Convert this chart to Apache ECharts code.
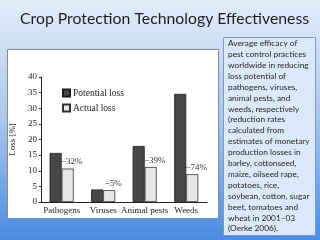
<!DOCTYPE html>
<html>
<head>
<meta charset="utf-8">
<script src="https://cdn.jsdelivr.net/npm/echarts@6/dist/echarts.min.js"></script>
<style>
html,body{margin:0;padding:0;}
#c{width:320px;height:240px;}
</style>
</head>
<body>
<div id="c"></div>
<script>
var categories = ['Pathogens', 'Viruses', 'Animal pests', 'Weeds'];
var potentialLoss = [15.7, 4.0, 17.9, 34.6];
var actualLoss = [10.7, 3.8, 11.2, 8.9];
var reductionLabels = ['\u221232%', '\u22125%', '\u221239%', '\u221274%'];
var seriesNames = ['Potential loss', 'Actual loss'];
var titleText = 'Crop Protection Technology Effectiveness';
var noteLines = [
  'Average efficacy of',
  'pest control practices',
  'worldwide in reducing',
  'loss potential of',
  'pathogens, viruses,',
  'animal pests, and',
  'weeds, respectively',
  '(reduction rates',
  'calculated from',
  'estimates of monetary',
  'production losses in',
  'barley, cottonseed,',
  'maize, oilseed rape,',
  'potatoes, rice,',
  'soybean, cotton, sugar',
  'beet, tomatoes and',
  'wheat in 2001\u201303',
  '(Oerke 2006).'
];

var serif = '"Liberation Serif", "DejaVu Serif", serif';
var chart = echarts.init(document.getElementById('c'), null, {renderer: 'canvas'});
chart.setOption({
  animation: false,
  backgroundColor: 'transparent',
  title: {
    text: titleText,
    left: 15,
    top: 6,
    textStyle: {fontFamily: 'Lato', fontSize: 15.8, fontWeight: 'normal', color: '#1f1f1f'}
  },
  graphic: [
    {type: 'rect', z: -10, silent: true, shape: {x: 0, y: 0, width: 320, height: 240},
     style: {fill: new echarts.graphic.LinearGradient(0, 0, 0, 1, [
       {offset: 0, color: '#e3edf9'},
       {offset: 0.5, color: '#a6c6ee'},
       {offset: 1, color: '#4a8ce2'}
     ])}},
    {type: 'rect', z: -5, silent: true, shape: {x: 7.5, y: 49.5, width: 211, height: 169},
     style: {fill: '#ffffff', stroke: '#8a8a8a', lineWidth: 1}},
    {type: 'rect', z: -5, silent: true, shape: {x: 223.5, y: 37.5, width: 92, height: 198},
     style: {fill: '#dbe8f7', stroke: '#7e9cbc', lineWidth: 1}},
    {type: 'text', z: 5, silent: true, left: 228, top: 38,
     style: {text: noteLines.join('\n'), fontFamily: 'Lato', fontSize: 8.3, lineHeight: 10.9, fill: '#262626'}}
  ],
  legend: {
    orient: 'vertical',
    left: 57,
    top: 83,
    itemWidth: 7,
    itemHeight: 7,
    itemGap: 5,
    icon: 'rect',
    data: seriesNames,
    textStyle: {fontFamily: serif, fontSize: 9.5, color: '#222', padding: [0, 0, 0, -2]}
  },
  grid: {left: 35, right: 113, top: 77, bottom: 38},
  xAxis: {
    type: 'category',
    data: categories,
    axisLine: {show: true, lineStyle: {color: '#222', width: 1}},
    axisTick: {show: false},
    axisLabel: {fontFamily: serif, fontSize: 9, color: '#222', margin: 4, interval: 0}
  },
  yAxis: {
    type: 'value',
    min: 0,
    max: 40,
    interval: 5,
    name: 'Loss [%]',
    nameLocation: 'middle',
    nameGap: 15,
    nameTextStyle: {fontFamily: serif, fontSize: 9, color: '#222'},
    axisLine: {show: true, lineStyle: {color: '#222', width: 1}},
    axisTick: {show: true, length: 2, lineStyle: {color: '#222'}},
    splitLine: {show: false},
    axisLabel: {fontFamily: serif, fontSize: 9, color: '#222', margin: 4}
  },
  series: [
    {
      name: seriesNames[0],
      type: 'bar',
      data: potentialLoss,
      barGap: '0%',
      barCategoryGap: '42%',
      itemStyle: {color: '#474747', borderColor: '#1a1a1a', borderWidth: 0.8}
    },
    {
      name: seriesNames[1],
      type: 'bar',
      data: actualLoss,
      barGap: '0%',
      barCategoryGap: '42%',
      itemStyle: {color: '#e6e6e6', borderColor: '#333333', borderWidth: 0.8},
      label: {
        show: true,
        position: 'top',
        distance: 2,
        offset: [4, 0],
        formatter: function (p) { return reductionLabels[p.dataIndex]; },
        fontFamily: serif,
        fontSize: 9,
        color: '#333'
      }
    }
  ]
});
</script>
</body>
</html>
